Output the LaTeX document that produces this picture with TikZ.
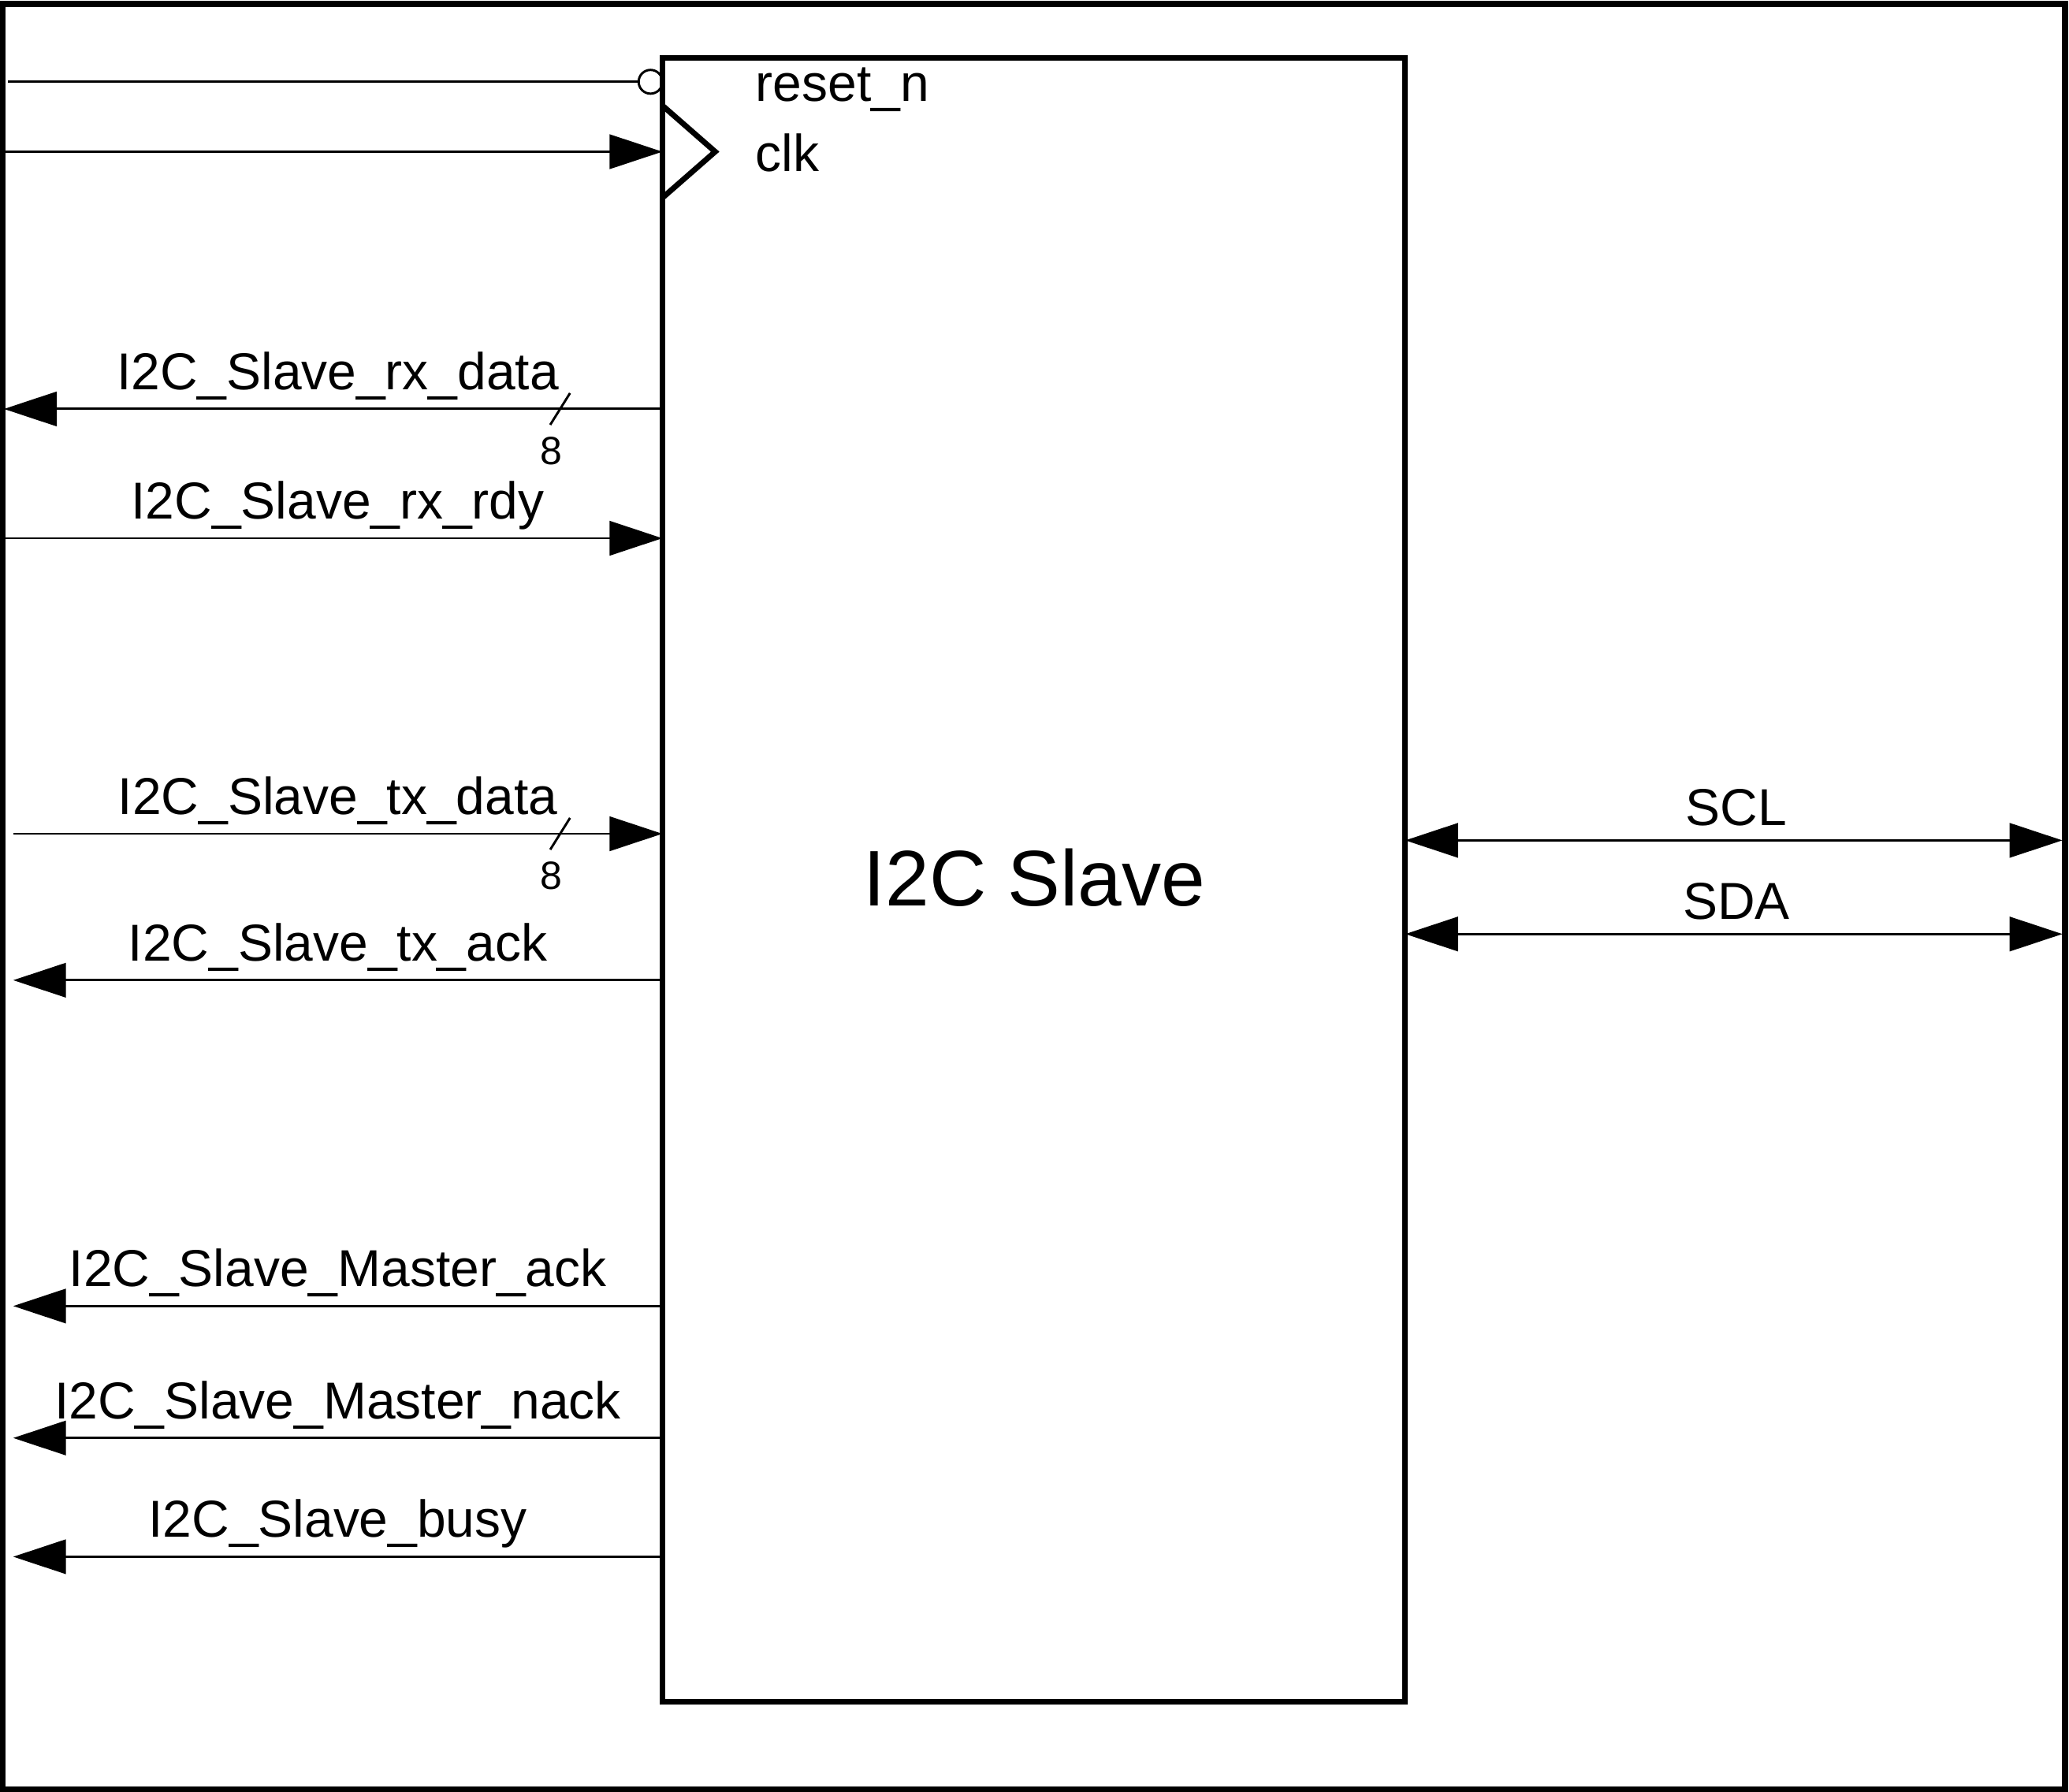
\documentclass[tikz,border=0pt]{standalone}
\usepackage{fontspec}
\setmainfont{Liberation Sans}
\usetikzlibrary{arrows.meta,positioning}
\tikzset{
  wire/.style={line width=0.5pt},
  sig/.style={wire,-{Triangle[length=4mm,width=2.6mm]}},
  bus2/.style={wire,{Triangle[length=4mm,width=2.6mm]}-{Triangle[length=4mm,width=2.6mm]}},
  lbl/.style={inner sep=0pt,font=\fontsize{11.2}{11.2}\selectfont},
  small/.style={inner sep=0pt,font=\fontsize{8.5}{8.5}\selectfont},
  none/.style={inner sep=0pt}
}
\begin{document}
\begin{tikzpicture}[x=0.01cm,y=-0.01cm]
  \useasboundingbox (0,0) rectangle (1568,1358);
  % frame and block
  \draw[line width=1.2pt] (2,3) rectangle (1565,1356);
  \draw[line width=1.2pt] (502,44) rectangle (1065,1290);
  \node[none,font=\fontsize{17}{17}\selectfont] (title) at (784,665) {I2C Slave};
  % pins
  \coordinate (rstL) at (6,62);
  \coordinate (rstR) at (484,62);
  \coordinate (clkL) at (3,115);
  \coordinate (clkR) at (502,115);
  \draw[wire] (rstL) -- (rstR);
  \draw[wire] (493,62) circle (9);
  \draw[sig] (clkL) -- (clkR);
  \draw[line width=1.2pt] (502,80) -- (542,115) -- (502,150);
  \node[lbl,anchor=west] at (572,68) {reset\_n};
  \node[lbl,anchor=west] at (572,116) {clk};
  % left side signals
  \foreach \y/\xa/\xb/\t in {310/502/3/I2C\_Slave\_rx\_data,
                             408/3/502/I2C\_Slave\_rx\_rdy,
                             632/10/502/I2C\_Slave\_tx\_data,
                             743/502/10/I2C\_Slave\_tx\_ack,
                             990/502/10/I2C\_Slave\_Master\_ack,
                             1090/502/10/I2C\_Slave\_Master\_nack,
                             1180/502/10/I2C\_Slave\_busy}{
    \coordinate (a) at (\xa,\y);
    \coordinate (b) at (\xb,\y);
    \draw[sig] (a) -- (b);
    \node[lbl] at (256,\y-25) {\t};
  }
  % bus widths
  \foreach \y in {310,632}{
    \draw[wire] (417,\y+12) -- (432,\y-12);
    \node[small] at (418,\y+32) {8};
  }
  % right side
  \coordinate (sclL) at (1065,637);
  \coordinate (sclR) at (1563,637);
  \coordinate (sdaL) at (1065,708);
  \coordinate (sdaR) at (1563,708);
  \draw[bus2] (sclL) -- (sclR);
  \draw[bus2] (sdaL) -- (sdaR);
  \node[lbl] at (1316,612) {SCL};
  \node[lbl] at (1316,683) {SDA};
\end{tikzpicture}
\end{document}
